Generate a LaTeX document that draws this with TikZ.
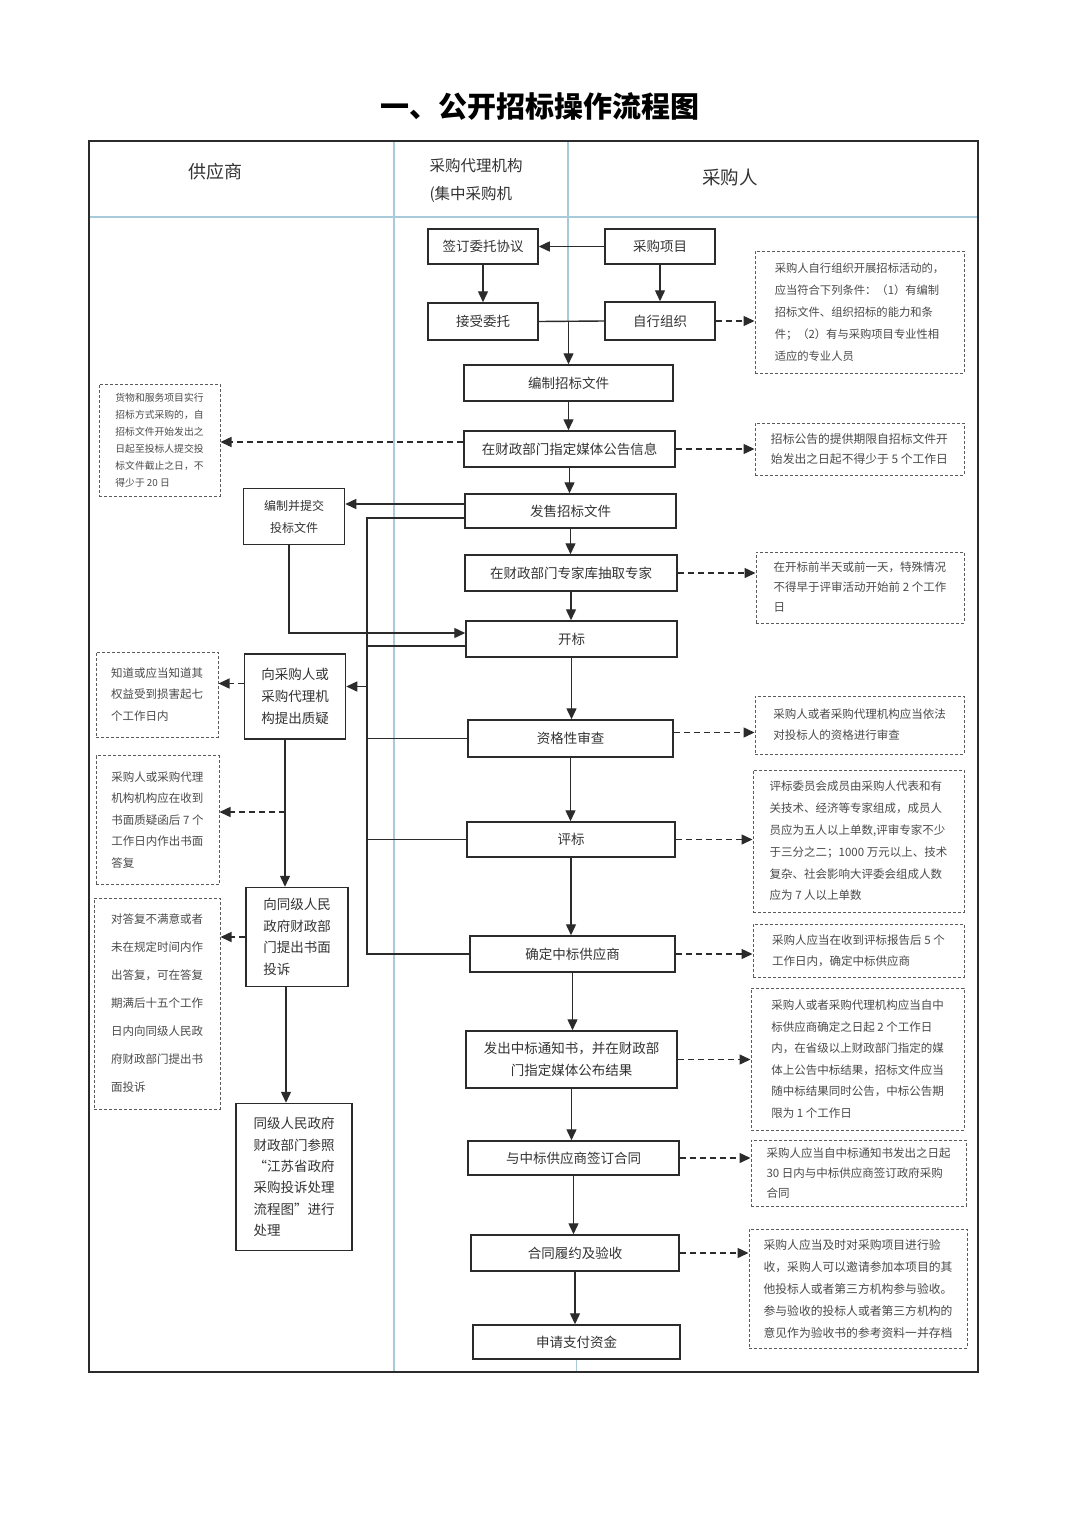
\documentclass[tikz,border=0pt]{standalone}
\usepackage{fontspec}
\setmainfont{Noto Sans CJK SC}
\usepackage{tikz}
\usetikzlibrary{arrows.meta}
\definecolor{laneblue}{HTML}{A9CBD9}
\definecolor{boxline}{HTML}{2B2B2B}
\definecolor{textc}{HTML}{333333}
\definecolor{notec}{HTML}{4A4A4A}
\definecolor{noteline}{HTML}{5A5A5A}
\tikzstyle{box} = [draw=boxline, line width=1.5pt, fill=white, inner sep=2pt, text=textc, align=center, font=\fontsize{13.5}{22}\selectfont]
\tikzstyle{note} = [draw=noteline, line width=1pt, dash pattern=on 3pt off 2pt, fill=white, inner sep=2pt, text=notec, align=left, font=\fontsize{11.5}{21.5}\selectfont]
\tikzstyle{arrow} = [line width=1.4pt, draw=boxline, -{Triangle[length=11pt,width=10pt]}]
\tikzstyle{dasharrow} = [line width=1.4pt, draw=boxline, dash pattern=on 6pt off 4pt, -{Triangle[length=11pt,width=10pt]}]
\tikzstyle{line} = [line width=1.4pt, draw=boxline]

\begin{document}
\begin{tikzpicture}[x=1pt, y=-1pt]
        \useasboundingbox[fill=white] (0,0) rectangle (1080,1528);
        % Title and lanes
        \node[font=\fontsize{29}{32}\selectfont\bfseries, text=black] (title) at (540,107) {一、公开招标操作流程图};
        \draw[laneblue, line width=1.2pt] (89,217) -- (978,217);
        \draw[laneblue, line width=1.2pt] (394,141) -- (394,1372);
        \draw[laneblue, line width=1.4pt] (568,141) -- (568,321.5);
        \draw[laneblue, line width=1.2pt] (576.5,1359) -- (576.5,1372);
        \draw[boxline, line width=2pt] (89,141) rectangle (978,1372);
        \node[font=\fontsize{18}{20}\selectfont, text=textc] (hgys) at (215,172) {供应商};
        \node[font=\fontsize{15.5}{28}\selectfont, text=textc, align=left] (hdl) at (476,181) {采购代理机构\\(集中采购机};
        \node[font=\fontsize{18.5}{20}\selectfont, text=textc] (hcgr) at (730,177) {采购人};

        % Central column
        \node[box, minimum width=110pt, minimum height=35pt] (qdwt) at (483,246.5) {签订委托协议};
        \node[box, minimum width=110pt, minimum height=35pt] (cgxm) at (660,246.5) {采购项目};
        \node[box, minimum width=110pt, minimum height=37pt] (jswt) at (483,321.5) {接受委托};
        \node[box, minimum width=110pt, minimum height=38pt] (zxzz) at (660,321) {自行组织};
        \node[box, minimum width=209pt, minimum height=36pt] (bzwj) at (568.5,383) {编制招标文件};
        \node[box, minimum width=211pt, minimum height=36pt] (ggxx) at (569.5,449) {在财政部门指定媒体公告信息};
        \node[box, minimum width=211pt, minimum height=34pt] (fswj) at (570.5,511) {发售招标文件};
        \node[box, minimum width=212pt, minimum height=36pt] (cqzj) at (571,573) {在财政部门专家库抽取专家};
        \node[box, minimum width=211pt, minimum height=36pt] (kb) at (571.5,639) {开标};
        \node[box, minimum width=205pt, minimum height=37pt] (zgsc) at (570.5,738.5) {资格性审查};
        \node[box, minimum width=208pt, minimum height=35pt] (pb) at (571,839.5) {评标};
        \node[box, minimum width=205pt, minimum height=36pt] (qdzb) at (572.5,954) {确定中标供应商};
        \node[box, minimum width=211pt, minimum height=57pt] (fczb) at (571.5,1059.5) {发出中标通知书，并在财政部\\门指定媒体公布结果};
        \node[box, minimum width=211pt, minimum height=34pt] (qdht) at (573.5,1158) {与中标供应商签订合同};
        \node[box, minimum width=208pt, minimum height=36pt] (htly) at (575,1253) {合同履约及验收};
        \node[box, minimum width=207pt, minimum height=34pt] (sqzj) at (576.5,1342) {申请支付资金};

        % Supplier column
        \node[box, minimum width=101pt, minimum height=56pt, font=\fontsize{12}{22}\selectfont] (bztj) at (294,516.5) {编制并提交\\投标文件};
        \node[box, minimum width=101pt, minimum height=85pt] (zy) at (295,696.5) {向采购人或\\采购代理机\\构提出质疑};
        \node[box, minimum width=102pt, minimum height=99pt, align=left, font=\fontsize{13.5}{21.7}\selectfont] (ts) at (297,937) {向同级人民\\政府财政部\\门提出书面\\投诉};
        \node[box, minimum width=116pt, minimum height=147pt, align=left, font=\fontsize{13.5}{21.4}\selectfont] (tjcl) at (294,1177) {同级人民政府\\财政部门参照\\“江苏省政府\\采购投诉处理\\流程图”进行\\处理};

        % Notes on the left
        \node[note, minimum width=121pt, minimum height=112pt, font=\fontsize{9.8}{17}\selectfont] (nA) at (159.5,440) {货物和服务项目实行\\招标方式采购的，自\\招标文件开始发出之\\日起至投标人提交投\\标文件截止之日，不\\得少于 20 日};
        \node[note, minimum width=122pt, minimum height=85pt] (nB) at (157,694.5) {知道或应当知道其\\权益受到损害起七\\个工作日内};
        \node[note, minimum width=123pt, minimum height=129pt] (nC) at (157.5,820) {采购人或采购代理\\机构机构应在收到\\书面质疑函后 7 个\\工作日内作出书面\\答复};
        \node[note, minimum width=126pt, minimum height=211pt, font=\fontsize{11.5}{28}\selectfont] (nD) at (157,1003.5) {对答复不满意或者\\未在规定时间内作\\出答复，可在答复\\期满后十五个工作\\日内向同级人民政\\府财政部门提出书\\面投诉};

        % Notes on the right
        \node[note, minimum width=209pt, minimum height=122pt, font=\fontsize{11.3}{22}\selectfont] (r1) at (859.5,312) {采购人自行组织开展招标活动的，\\应当符合下列条件：（1）有编制\\招标文件、组织招标的能力和条\\件；（2）有与采购项目专业性相\\适应的专业人员};
        \node[note, minimum width=209pt, minimum height=52pt, font=\fontsize{11.8}{20}\selectfont] (r2) at (859.5,449) {招标公告的提供期限自招标文件开\\始发出之日起不得少于 5 个工作日};
        \node[note, minimum width=208pt, minimum height=71pt, font=\fontsize{11.5}{20}\selectfont] (r3) at (860,587.5) {在开标前半天或前一天，特殊情况\\不得早于评审活动开始前 2 个工作\\日};
        \node[note, minimum width=209pt, minimum height=58pt, font=\fontsize{11.5}{21}\selectfont] (r4) at (859.5,725) {采购人或者采购代理机构应当依法\\对投标人的资格进行审查};
        \node[note, minimum width=211pt, minimum height=142pt, font=\fontsize{11.5}{21.8}\selectfont] (r5) at (858.5,841) {评标委员会成员由采购人代表和有\\关技术、经济等专家组成，成员人\\员应为五人以上单数,评审专家不少\\于三分之二；1000 万元以上、技术\\复杂、社会影响大评委会组成人数\\应为 7 人以上单数};
        \node[note, minimum width=211pt, minimum height=53pt, font=\fontsize{11.5}{21}\selectfont] (r6) at (858.5,950.5) {采购人应当在收到评标报告后 5 个\\工作日内，确定中标供应商};
        \node[note, minimum width=213pt, minimum height=142pt, font=\fontsize{11.5}{21.6}\selectfont] (r7) at (857.5,1059) {采购人或者采购代理机构应当自中\\标供应商确定之日起 2 个工作日\\内，在省级以上财政部门指定的媒\\体上公告中标结果，招标文件应当\\随中标结果同时公告，中标公告期\\限为 1 个工作日};
        \node[note, minimum width=215pt, minimum height=66pt, font=\fontsize{11.5}{20}\selectfont] (r8) at (858.5,1173) {采购人应当自中标通知书发出之日起\\30 日内与中标供应商签订政府采购\\合同};
        \node[note, minimum width=218pt, minimum height=119pt, font=\fontsize{11.8}{22}\selectfont] (r9) at (858,1288.5) {采购人应当及时对采购项目进行验\\收，采购人可以邀请参加本项目的其\\他投标人或者第三方机构参与验收。\\参与验收的投标人或者第三方机构的\\意见作为验收书的参考资料一并存档};

        % Main flow
        \draw[arrow] (cgxm.west) -- (qdwt.east);
        \draw[arrow] (qdwt.south) -- (jswt.north);
        \draw[arrow] (cgxm.south) -- (zxzz.north);
        \draw[line] (jswt.east) -- (zxzz.west);
        \draw[arrow] (jswt.east -| bzwj.north) -- (bzwj.north);
        \draw[arrow] (bzwj.south) -- (bzwj.south |- ggxx.north);
        \draw[arrow] (ggxx.south) -- (ggxx.south |- fswj.north);
        \draw[arrow] (fswj.south) -- (fswj.south |- cqzj.north);
        \draw[arrow] (cqzj.south) -- (cqzj.south |- kb.north);
        \draw[arrow] (kb.south) -- (kb.south |- zgsc.north);
        \draw[arrow] (zgsc.south) -- (zgsc.south |- pb.north);
        \draw[arrow] (pb.south) -- (pb.south |- qdzb.north);
        \draw[arrow] (qdzb.south) -- (qdzb.south |- fczb.north);
        \draw[arrow] (fczb.south) -- (fczb.south |- qdht.north);
        \draw[arrow] (qdht.south) -- (qdht.south |- htly.north);
        \draw[arrow] (htly.south) -- (htly.south |- sqzj.north);

        % Supplier side
        \coordinate (bsTop) at (367,518);
        \coordinate (zyLine) at ([xshift=-10pt]zy.south);
        \draw[arrow] ([yshift=7pt]fswj.west) -- ([yshift=7pt]fswj.west -| bztj.east);
        \draw[line] ([yshift=-7pt]fswj.west) -- (bsTop) |- (qdzb.west);
        \draw[line] ([yshift=-7pt]kb.west) -- ([yshift=-7pt]kb.west -| bsTop);
        \draw[line] (zgsc.west) -- (zgsc.west -| bsTop);
        \draw[line] (pb.west) -- (pb.west -| bsTop);
        \draw[arrow] ([yshift=10pt]zy.east -| bsTop) -- ([yshift=10pt]zy.east);
        \draw[arrow] ([xshift=-5pt]bztj.south) |- ([yshift=6pt]kb.west);
        \draw[arrow] (zyLine) -- (zyLine |- ts.north);
        \draw[arrow] ([xshift=-11pt]ts.south) -- ([xshift=-11pt]ts.south |- tjcl.north);

        % Dashed notes
        \draw[dasharrow] (zxzz.east) -- (zxzz.east -| r1.west);
        \draw[dasharrow] ([yshift=7pt]ggxx.west) -- ([yshift=7pt]ggxx.west -| nA.east);
        \draw[dasharrow] (ggxx.east) -- (ggxx.east -| r2.west);
        \draw[dasharrow] (cqzj.east) -- (cqzj.east -| r3.west);
        \draw[dasharrow] ([yshift=6pt]zgsc.east) -- ([yshift=6pt]zgsc.east -| r4.west);
        \draw[dasharrow] (pb.east) -- (pb.east -| r5.west);
        \draw[dasharrow] (qdzb.east) -- (qdzb.east -| r6.west);
        \draw[dasharrow] (fczb.east) -- (fczb.east -| r7.west);
        \draw[dasharrow] (qdht.east) -- (qdht.east -| r8.west);
        \draw[dasharrow] (htly.east) -- (htly.east -| r9.west);
        \draw[dasharrow] ([yshift=13pt]zy.west) -- ([yshift=13pt]zy.west -| nB.east);
        \draw[dasharrow] ([yshift=8pt]nC.east -| zyLine) -- ([yshift=8pt]nC.east);
        \draw[dasharrow] (ts.west) -- (ts.west -| nD.east);
\end{tikzpicture}
\end{document}
